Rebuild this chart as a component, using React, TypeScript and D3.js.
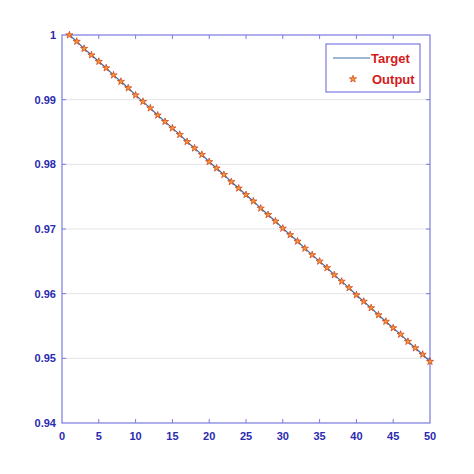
import React from "react";
import * as d3 from "d3";

const xValues: number[] = Array.from({ length: 50 }, (_, i) => i + 1);
const targetValues: number[] = [
  1.0, 0.999, 0.9979, 0.9969, 0.9959, 0.9949, 0.9938, 0.9928, 0.9918, 0.9907,
  0.9897, 0.9887, 0.9876, 0.9866, 0.9856, 0.9846, 0.9835, 0.9825, 0.9815, 0.9804,
  0.9794, 0.9784, 0.9773, 0.9763, 0.9753, 0.9743, 0.9732, 0.9722, 0.9712, 0.9701,
  0.9691, 0.9681, 0.967, 0.966, 0.965, 0.964, 0.9629, 0.9619, 0.9609, 0.9598,
  0.9588, 0.9578, 0.9567, 0.9557, 0.9547, 0.9537, 0.9526, 0.9516, 0.9506, 0.9495,
];
const outputValues: number[] = [...targetValues];
const xTicks: number[] = [0, 5, 10, 15, 20, 25, 30, 35, 40, 45, 50];
const yTicks: number[] = [0.94, 0.95, 0.96, 0.97, 0.98, 0.99, 1];
const yTickLabels: string[] = ["0.94", "0.95", "0.96", "0.97", "0.98", "0.99", "1"];
const legendLabels: string[] = ["Target", "Output"];

const W = 474;
const H = 474;
const L = 62;
const R = 430;
const T = 35;
const B = 423;

const axisColor = "#7a7ae0";
const labelColor = "#2a2ab0";
const lineColor = "#3a6fa8";
const starFill = "#f39a3a";
const starStroke = "#d03a10";
const legendText = "#d41a1a";
const font = "'Liberation Sans', Arial, sans-serif";

export default function App() {
  const x = d3.scaleLinear().domain([0, 50]).range([L, R]);
  const y = d3.scaleLinear().domain([0.94, 1]).range([B, T]);
  const line = d3
    .line<number>()
    .x((_, i) => x(xValues[i]))
    .y((d) => y(d));
  const star = d3.symbol().type(d3.symbolStar).size(16)() as string;

  return (
    <svg
      width={W}
      height={H}
      style={{ position: "absolute", left: 0, top: 0, background: "#fff" }}
    >
      <rect x={0} y={0} width={W} height={H} fill="#fff" />
      {/* grid */}
      {yTicks.slice(1, -1).map((t) => (
        <line key={"g" + t} x1={L} x2={R} y1={y(t)} y2={y(t)} stroke="#e4e4e4" strokeWidth={1} />
      ))}
      {/* ticks */}
      {xTicks.slice(1, -1).map((t) => (
        <g key={"xt" + t}>
          <line x1={x(t)} x2={x(t)} y1={B} y2={B - 4} stroke={axisColor} />
          <line x1={x(t)} x2={x(t)} y1={T} y2={T + 4} stroke={axisColor} />
        </g>
      ))}
      {yTicks.slice(1, -1).map((t) => (
        <g key={"yt" + t}>
          <line x1={L} x2={L + 4} y1={y(t)} y2={y(t)} stroke={axisColor} />
          <line x1={R} x2={R - 4} y1={y(t)} y2={y(t)} stroke={axisColor} />
        </g>
      ))}
      {/* box */}
      <rect x={L} y={T} width={R - L} height={B - T} fill="none" stroke={axisColor} strokeWidth={1.2} />
      {/* tick labels */}
      {xTicks.map((t) => (
        <text
          key={"xl" + t}
          x={x(t)}
          y={B + 17}
          textAnchor="middle"
          fontFamily={font}
          fontWeight="bold"
          fontSize={11}
          fill={labelColor}
        >
          {t}
        </text>
      ))}
      {yTicks.map((t, i) => (
        <text
          key={"yl" + t}
          x={L - 6}
          y={y(t) + 4}
          textAnchor="end"
          fontFamily={font}
          fontWeight="bold"
          fontSize={11}
          fill={labelColor}
        >
          {yTickLabels[i]}
        </text>
      ))}
      {/* data */}
      <path d={line(targetValues) as string} fill="none" stroke={lineColor} strokeWidth={1.2} />
      {outputValues.map((v, i) => (
        <path
          key={"s" + i}
          d={star}
          transform={`translate(${x(xValues[i])},${y(v)})`}
          fill={starFill}
          stroke={starStroke}
          strokeWidth={0.7}
        />
      ))}
      {/* legend */}
      <rect x={326} y={44} width={94} height={48} fill="#fff" stroke={axisColor} strokeWidth={1.2} />
      <line x1={333} x2={370} y1={58} y2={58} stroke={lineColor} strokeWidth={1.2} />
      <text x={371} y={62.5} fontFamily={font} fontWeight="bold" fontSize={13} fill={legendText}>
        {legendLabels[0]}
      </text>
      <path d={star} transform="translate(353,79)" fill={starFill} stroke={starStroke} strokeWidth={0.7} />
      <text x={372} y={83.5} fontFamily={font} fontWeight="bold" fontSize={13} fill={legendText}>
        {legendLabels[1]}
      </text>
    </svg>
  );
}
